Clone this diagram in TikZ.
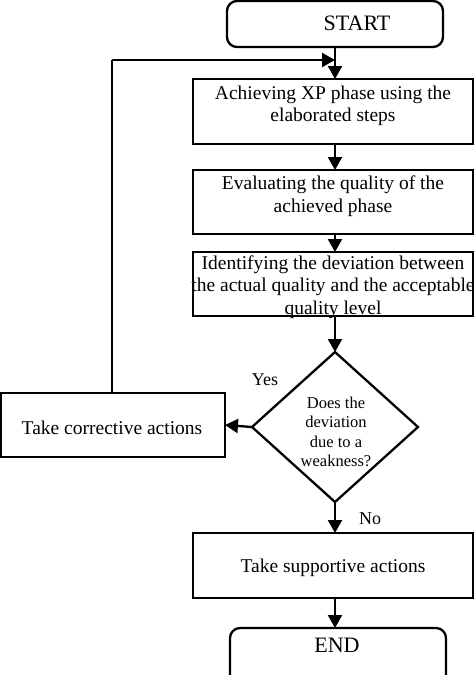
\documentclass[tikz,border=0pt]{standalone}
\usepackage{fontspec}
\setmainfont{Liberation Serif}
\usetikzlibrary{shapes.geometric,arrows.meta}
\begin{document}
\begin{tikzpicture}[x=1pt,y=-1pt,
  every node/.style={inner sep=0pt,outer sep=0pt},
  box/.style={draw,line width=2.3pt,rectangle,anchor=north west,minimum width=280pt,minimum height=65pt},
  term/.style={draw,line width=2.3pt,rectangle,rounded corners=10pt,anchor=north west,minimum width=216pt,minimum height=46pt},
  decision/.style={draw,line width=2.3pt,diamond,minimum width=166pt,minimum height=150pt},
  txt/.style={align=center,font=\fontsize{19.5}{22.5}\selectfont},
  ttxt/.style={font=\fontsize{22}{26}\selectfont},
  dtxt/.style={align=center,font=\fontsize{16.5}{19.5}\selectfont},
  lbl/.style={font=\fontsize{18}{21}\selectfont},
  conn/.style={line width=2.3pt,-{Triangle[length=13pt,width=14pt]}}
]
\useasboundingbox (0,0) rectangle (474,675);
\clip (0,0) rectangle (474,675);
\fill[white] (0,0) rectangle (474,675);
% shapes
\node[term] (start) at (227,1) {};
\node[box] (b1) at (193,79) {};
\node[box,minimum height=64pt] (b2) at (193,170) {};
\node[box,minimum height=64pt] (b3) at (193,252) {};
\node[decision] (dec) at (335,427) {};
\node[box,minimum width=224pt,minimum height=64pt] (corr) at (1,393) {};
\node[box] (supp) at (193,533) {};
\node[term,minimum height=60pt] (end) at (230,628) {};
% texts
\node[ttxt] (startt) at (357,23) {START};
\node[txt] (t1) at (333,106) {Achieving XP phase using the\\elaborated steps};
\node[txt] (t2) at (333,196) {Evaluating the quality of the\\achieved phase};
\node[txt] (t3) at (333,287) {Identifying the deviation between\\the actual quality and the acceptable\\quality level};
\node[dtxt] (dect) at (336,432) {Does the\\deviation\\due to a\\weakness?};
\node[txt] (corrt) at (112,428) {Take corrective actions};
\node[txt] (suppt) at (333,568) {Take supportive actions};
\node[ttxt] (endt) at (337,645) {END};
\node[lbl] (yes) at (265,380) {Yes};
\node[lbl] (no) at (370,519) {No};
% connectors
\coordinate (loopc) at (112,60);
\coordinate (join) at (335,60);
\draw[conn] (start.south -| join) -- (b1.north -| join);
\draw[conn] (b1.south -| join) -- (b2.north -| join);
\draw[conn] (b2.south -| join) -- (b3.north -| join);
\draw[conn] (b3.south -| join) -- (dec.north);
\draw[conn] (dec.west) -- (corr.east);
\draw[conn] (dec.south) -- (supp.north -| dec.south);
\draw[conn] (supp.south -| join) -- (end.north -| join);
\draw[line width=2.3pt] (corr.north -| loopc) -- (loopc);
\draw[conn] (loopc) -- (join);
\end{tikzpicture}
\end{document}
